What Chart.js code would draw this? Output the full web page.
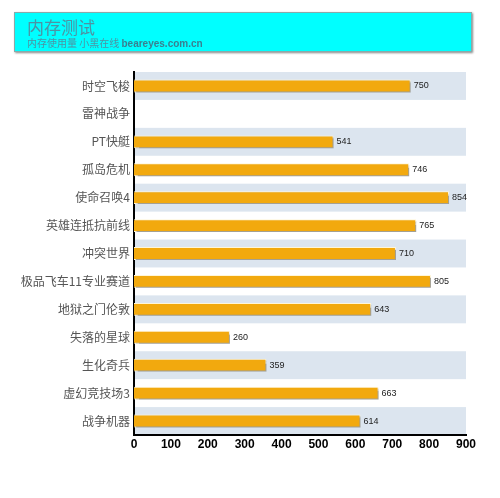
<!DOCTYPE html>
<html>
<head>
<meta charset="utf-8">
<script src="https://cdn.jsdelivr.net/npm/chart.js@4"></script>
<style>
  html, body { margin: 0; padding: 0; background: #fff; }
  #wrap { position: relative; width: 500px; height: 498px; }
  #chart { position: absolute; left: 0; top: 0; }
  .head {
    position: absolute; left: 14px; top: 12px; width: 456px; height: 38px;
    background: #00ffff; border: 1px solid #8aa; box-shadow: 1px 1px 2px #888;
  }
  .head .t { position: absolute; left: 12px; top: 5px; font: 17px "Noto Sans CJK SC"; color: #4d93a3; line-height: 18px; }
  .head .s { position: absolute; left: 12px; top: 24px; font: 10px "Noto Sans CJK SC"; color: #4d93a3; line-height: 11px; }
  .head .s b { font: bold 10px "Liberation Sans", Arial; color: #3a7f90; }
</style>
</head>
<body>
<div id="wrap">
  <canvas id="chart" width="500" height="498"></canvas>
  <div class="head">
    <div class="t">内存测试</div>
    <div class="s">内存使用量 小黑在线 <b>beareyes.com.cn</b></div>
  </div>
</div>
<script>
var games = ["时空飞梭", "雷神战争", "PT快艇", "孤岛危机", "使命召唤4", "英雄连抵抗前线", "冲突世界",
  "极品飞车11专业赛道", "地狱之门伦敦", "失落的星球", "生化奇兵", "虚幻竞技场3", "战争机器"];
var memory = [750, null, 541, 746, 854, 765, 710, 805, 643, 260, 359, 663, 614];
var xTicks = [0, 100, 200, 300, 400, 500, 600, 700, 800, 900];

var bandPlugin = {
  id: "bands",
  beforeDraw: function (c) {
    var ctx = c.ctx, a = c.chartArea, y = c.scales.y;
    var h = (a.bottom - a.top) / games.length;
    ctx.save();
    ctx.fillStyle = "#dce5ef";
    for (var i = 0; i < games.length; i += 2) {
      var py = y.getPixelForValue(i);
      ctx.fillRect(a.left, py - h / 2, a.right - a.left, h);
    }
    ctx.restore();
  },
  beforeDatasetDraw: function (c) {
    c.ctx.save();
    c.ctx.shadowColor = "rgba(90,90,90,0.55)";
    c.ctx.shadowOffsetX = 2;
    c.ctx.shadowOffsetY = 2;
    c.ctx.shadowBlur = 1;
  },
  afterDatasetDraw: function (c) {
    c.ctx.restore();
  },
  afterDatasetsDraw: function (c) {
    var ctx = c.ctx, meta = c.getDatasetMeta(0);
    ctx.save();
    ctx.font = "9px 'Liberation Sans', Arial";
    ctx.fillStyle = "#222";
    ctx.textBaseline = "middle";
    meta.data.forEach(function (bar, i) {
      if (memory[i] == null) return;
      ctx.fillText(memory[i], bar.x + 3, bar.y);
    });
    ctx.restore();
  }
};

new Chart(document.getElementById("chart"), {
  type: "bar",
  data: {
    labels: games,
    datasets: [{
      data: memory,
      backgroundColor: "#f2a90e",
      borderColor: "#fff6d8",
      borderWidth: 1,
      categoryPercentage: 1,
      barPercentage: 0.46
    }]
  },
  options: {
    indexAxis: "y",
    responsive: false,
    animation: false,
    layout: {padding: {left: 0, top: 72, right: 34, bottom: 0}},
    plugins: {legend: {display: false}, tooltip: {enabled: false}},
    scales: {
      x: {
        min: 0, max: 900,
        afterFit: function (s) { s.height = 63; },
        afterBuildTicks: function (s) { s.ticks = xTicks.map(function (v) { return {value: v}; }); },
        grid: {display: false, drawTicks: false, tickLength: 0},
        border: {display: true, color: "#000", width: 2},
        ticks: {color: "#000", font: {family: "'Liberation Sans', Arial", size: 12, weight: "bold"}, padding: 2}
      },
      y: {
        afterFit: function (s) { s.width = 134; },
        grid: {display: false, drawTicks: false, tickLength: 0},
        border: {display: true, color: "#000", width: 2},
        ticks: {color: "#555", font: {family: "'Noto Sans CJK SC'", size: 12}, padding: 4}
      }
    }
  },
  plugins: [bandPlugin]
});
</script>
</body>
</html>
